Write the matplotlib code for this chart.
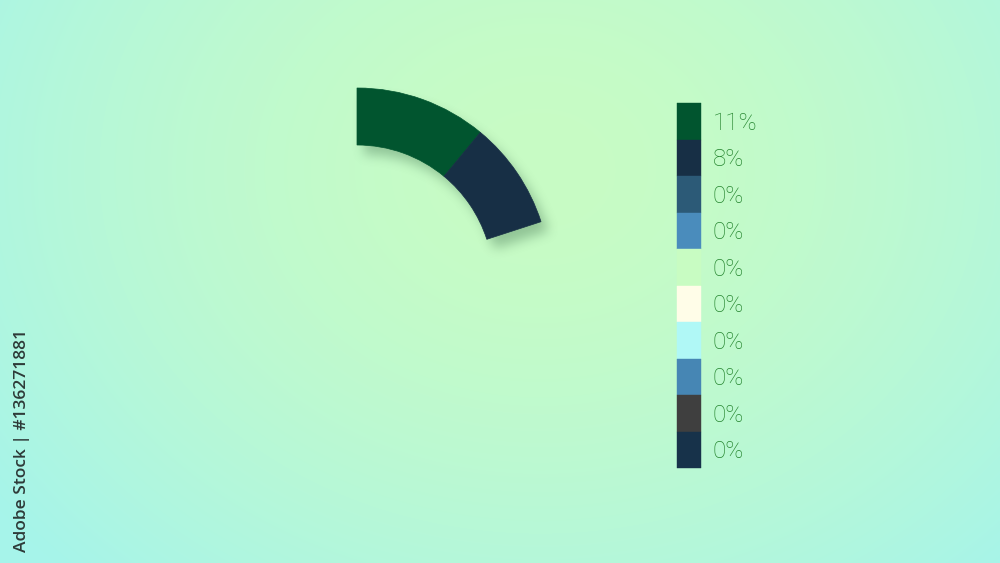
import numpy as np
import matplotlib
matplotlib.use("Agg")
import matplotlib.pyplot as plt
from matplotlib.patches import Wedge

# ---- data ----
arc_values = [11.0, 9.0]            # percent shown by the arc segments
arc_colors = ["#01552f", "#172f45"]
legend_labels = ["11%", "8%", "0%", "0%", "0%", "0%", "0%", "0%", "0%", "0%"]
legend_colors = ["#01552f", "#172f45", "#2c5a77", "#4a8cbc", "#c8fcc2",
                 "#fffde8", "#b0f8f6", "#4686b4", "#3f3f3f", "#17324a"]

W, H = 1000, 563
fig = plt.figure(figsize=(W / 100, H / 100), dpi=100)
ax = fig.add_axes([0, 0, 1, 1])
ax.set_xlim(0, W)
ax.set_ylim(0, H)
ax.axis("off")

# ---- background gradient ----
yy, xx = np.mgrid[0:H, 0:W]
cx, cy = 540, 170  # image-row coords of light centre
d = np.sqrt(((xx - cx) / 680.0) ** 2 + ((yy - cy) / 560.0) ** 2)
t = np.clip(d, 0, 1) ** 1.6
c_in = np.array([0xc8, 0xfc, 0xc4]) / 255
c_out = np.array([0xa6, 0xf4, 0xea]) / 255
bg = c_in[None, None, :] * (1 - t[..., None]) + c_out[None, None, :] * t[..., None]
ax.imshow(bg, extent=[0, W, 0, H], origin="upper", zorder=0, aspect="auto")

# ---- arc (donut segments) ----
ctr = (357, H - 281.5)
R_out, R_in = 193.5, 136.5
start = 90.0
cum = np.concatenate([[0], np.cumsum(arc_values)])

# shadow via blurred mask
tot_lo = start - cum[-1] * 3.6
sx, sy = ctr[0] + 7, (281.5 + 9)
ang = np.degrees(np.arctan2(-(yy - sy), xx - sx))
rr = np.sqrt((xx - sx) ** 2 + (yy - sy) ** 2)
mask = ((rr <= R_out) & (rr >= R_in) & (ang <= start) & (ang >= tot_lo)).astype(float)
def box(a, k):
    c = np.cumsum(np.pad(a, ((0, 0), (k, k)), mode="edge"), axis=1)
    a = (c[:, 2 * k:] - np.pad(c, ((0, 0), (1, 0)))[:, :-2 * k - 1]) / (2 * k + 1)
    c = np.cumsum(np.pad(a, ((k, k), (0, 0)), mode="edge"), axis=0)
    a = (c[2 * k:, :] - np.pad(c, ((1, 0), (0, 0)))[:-2 * k - 1, :]) / (2 * k + 1)
    return a
for _ in range(3):
    mask = box(mask, 5)
sh = np.zeros((H, W, 4))
sh[..., :3] = np.array([0x30, 0x60, 0x40]) / 255
sh[..., 3] = mask * 0.35
ax.imshow(sh, extent=[0, W, 0, H], origin="upper", zorder=2, aspect="auto")

for v0, v1, col in zip(cum[:-1], cum[1:], arc_colors):
    w = Wedge(ctr, R_out, start - v1 * 3.6, start - v0 * 3.6,
              width=R_out - R_in, facecolor=col, edgecolor=col, lw=0.5, zorder=3)
    ax.add_patch(w)

# ---- legend bars ----
top, bar_h = H - 103, 36.5
for k, (lab, col) in enumerate(zip(legend_labels, legend_colors)):
    y0 = top - (k + 1) * bar_h
    ax.bar(689, bar_h, width=24, bottom=y0, color=col, edgecolor=col,
           lw=0.3, zorder=3)
    ax.text(713, y0 + bar_h / 2 - 2, lab, color="#25852f", fontsize=17.5,
            family="Roboto", fontweight="light", ha="left", va="center", zorder=4)

# ---- side credit ----
ax.text(22, H - 440, "Adobe Stock | #136271881", rotation=90, color="#2e3a38",
        fontsize=12.5, family="Open Sans", fontweight="semibold",
        ha="center", va="center", zorder=4)

fig.savefig("out.png", dpi=100)
